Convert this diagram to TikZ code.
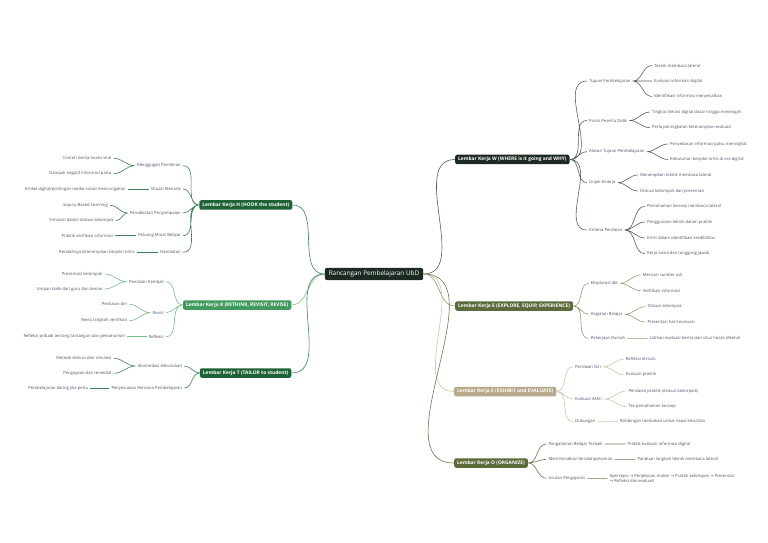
\documentclass[tikz,border=0pt]{standalone}
\usepackage{fontspec}
\setmainfont{Open Sans}
\newfontfamily\arrowfont{DejaVu Sans}
\usetikzlibrary{positioning}

\definecolor{coredark}{HTML}{1D2A21}
\definecolor{labelgray}{HTML}{4E5566}
\definecolor{wcol}{HTML}{55625A}
\definecolor{xfill}{HTML}{5B6B3E}
\definecolor{xcol}{HTML}{9C9B6E}
\definecolor{vfill}{HTML}{B4A988}
\definecolor{vcol}{HTML}{CEC5A5}
\definecolor{ofill}{HTML}{5D6A3B}
\definecolor{ocol}{HTML}{75764D}
\definecolor{hfill}{HTML}{1F6236}
\definecolor{hcol}{HTML}{3A8457}
\definecolor{rfill}{HTML}{3F9A5C}
\definecolor{rcol}{HTML}{74C08C}

\newcommand{\nextstep}{{\arrowfont →}}

\begin{document}
\begin{tikzpicture}[x=1bp,y=-1bp,
  box/.style={rounded corners=2bp,text=white,inner xsep=3bp,inner ysep=0pt,minimum height=9.5bp,font=\fontsize{4.9}{5.6}\selectfont\bfseries},
  core/.style={box,fill=coredark,minimum height=12bp,inner xsep=4bp,font=\fontsize{6.4}{7}\selectfont},
  topic/.style={inner xsep=2bp,inner ysep=1bp,text=labelgray,font=\fontsize{4.2}{5}\selectfont},
  rt/.style={topic,anchor=west},
  lt/.style={topic,anchor=east},
  rto/.style={out=0,in=180},
  lto/.style={out=180,in=0},
  link/.style={line width=0.6bp},
  wline/.style={link,draw=wcol},
  xline/.style={link,draw=xcol},
  vline/.style={link,draw=vcol},
  oline/.style={link,draw=ocol},
  hline/.style={link,draw=hcol},
  rline/.style={link,draw=rcol}]
\fill[white] (0,0) rectangle (768,543);
\useasboundingbox (0,0) rectangle (768,543);

% centre
\node[core] (c) at (374,274) {Rancangan Pembelajaran UbD};

% right branches
\node[box,fill=coredark,anchor=west] (w) at (455,159.5) {Lembar Kerja W (WHERE is it going and WHY)};
\node[box,fill=xfill,anchor=west] (x) at (455,306) {Lembar Kerja E (EXPLORE, EQUIP, EXPERIENCE)};
\node[box,fill=vfill,anchor=west] (v) at (454,391.5) {Lembar Kerja E (EXHIBIT and EVALUATE)};
\node[box,fill=ofill,anchor=west] (o) at (454,463) {Lembar Kerja O (ORGANIZE)};

% left branches
\node[box,fill=hfill,anchor=east] (h) at (292.5,205) {Lembar Kerja H (HOOK the student)};
\node[box,fill=rfill,anchor=east] (r) at (291.5,305) {Lembar Kerja R (RETHINK, REVISIT, REVISE)};
\node[box,fill=hfill,anchor=east] (t) at (291.5,373) {Lembar Kerja T (TAILOR to student)};

% W
\node[rt] (w1) at (587,81) {Tujuan Pembelajaran};
\node[rt] (w2) at (587,120.5) {Posisi Peserta Didik};
\node[rt] (w3) at (587,151.7) {Alasan Tujuan Pembelajaran};
\node[rt] (w4) at (587,182.7) {Unjuk Kinerja};
\node[rt] (w5) at (587,230) {Kriteria Penilaian};
\node[rt] (w1a) at (652,65.5) {Teknik membaca lateral};
\node[rt] (w1b) at (652,81) {Evaluasi informasi digital};
\node[rt] (w1c) at (652,96.5) {Identifikasi informasi menyesatkan};
\node[rt] (w2a) at (650,112) {Tingkat literasi digital dasar hingga menengah};
\node[rt] (w2b) at (650,127.7) {Perlu peningkatan keterampilan evaluasi};
\node[rt] (w3a) at (668,144) {Penyebaran informasi palsu meningkat};
\node[rt] (w3b) at (668,159.5) {Kebutuhan berpikir kritis di era digital};
\node[rt] (w4a) at (638,175) {Menerapkan teknik membaca lateral};
\node[rt] (w4b) at (638,191) {Diskusi kelompok dan presentasi};
\node[rt] (w5a) at (645,206.3) {Pemahaman konsep membaca lateral};
\node[rt] (w5b) at (645,222) {Penggunaan teknik dalam praktik};
\node[rt] (w5c) at (645,238) {Kritis dalam identifikasi kredibilitas};
\node[rt] (w5d) at (645,253.7) {Kerja sama dan tanggung jawab};

% E (explore)
\node[rt] (x1) at (588.7,283.3) {Eksplorasi Ide};
\node[rt] (x2) at (588.7,314.3) {Kegiatan Belajar};
\node[rt] (x3) at (588.7,338.3) {Pekerjaan Rumah};
\node[rt] (x1a) at (640.7,275) {Mencari sumber asli};
\node[rt] (x1b) at (640.7,290.7) {Verifikasi informasi};
\node[rt] (x2a) at (645.3,306.7) {Diskusi kelompok};
\node[rt] (x2b) at (645.3,322) {Presentasi hasil evaluasi};
\node[rt] (x3a) at (647.3,338.3) {Latihan evaluasi berita dari situs hoaks dikenal};

% E (exhibit)
\node[rt] (v1) at (573,366.7) {Penilaian Diri};
\node[rt] (v2) at (573,399) {Evaluasi Akhir};
\node[rt] (v3) at (573,421.7) {Dukungan};
\node[rt] (v1a) at (623.7,359.3) {Refleksi tertulis};
\node[rt] (v1b) at (623.7,374.7) {Evaluasi praktik};
\node[rt] (v2a) at (626.3,391) {Penilaian praktik (diskusi kelompok)};
\node[rt] (v2b) at (626.3,406.7) {Tes pemahaman konsep};
\node[rt] (v3a) at (618,421.7) {Bimbingan tambahan untuk siswa kesulitan};

% O
\node[rt] (o1) at (546.3,444) {Pengalaman Belajar Terbaik};
\node[rt] (o2) at (546.3,459.3) {Meminimalkan Kesalahpahaman};
\node[rt] (o3) at (546.3,478.3) {Urutan Pengajaran};
\node[rt] (o1a) at (625.3,444) {Praktik evaluasi informasi digital};
\node[rt] (o2a) at (635.3,459.3) {Panduan langkah teknik membaca lateral};
\node[rt,align=left] (o3a) at (607.3,478.6) {Apersepsi \nextstep{} Penjelasan materi \nextstep{} Praktik kelompok \nextstep{} Presentasi\\\nextstep{} Refleksi dan evaluasi};

% H
\node[lt] (h1) at (183,165.7) {Menggugah Pemikiran};
\node[lt] (h2) at (183,189) {Situasi Menarik};
\node[lt] (h3) at (183,213) {Pendekatan Penyampaian};
\node[lt] (h4) at (183,235.7) {Peluang Minat Belajar};
\node[lt] (h5) at (183,252.3) {Hambatan};
\node[lt] (h1a) at (113.7,158.3) {Contoh berita hoaks viral};
\node[lt] (h1b) at (113.7,173.7) {Dampak negatif informasi palsu};
\node[lt] (h2a) at (127.7,189) {Artikel digital/postingan media sosial mencurigakan};
\node[lt] (h3a) at (110,205.3) {Inquiry-Based Learning};
\node[lt] (h3b) at (116,220.7) {Simulasi dalam diskusi kelompok};
\node[lt] (h4a) at (115.3,235.7) {Praktik verifikasi informasi};
\node[lt] (h5a) at (137,252.3) {Rendahnya keterampilan berpikir kritis};

% R
\node[lt] (r1) at (166,281.7) {Penilaian Kembali};
\node[lt] (r2) at (166,312.7) {Revisi};
\node[lt] (r3) at (166,336.7) {Refleksi};
\node[lt] (r1a) at (104.7,274) {Presentasi kelompok};
\node[lt] (r1b) at (104.7,289) {Umpan balik dari guru dan teman};
\node[lt] (r2a) at (129.3,304.3) {Penilaian diri};
\node[lt] (r2b) at (129.3,320.7) {Revisi langkah verifikasi};
\node[lt] (r3a) at (127.3,336.7) {Refleksi pribadi tentang tantangan dan pemahaman};

% T
\node[lt] (t1) at (184.3,366) {Akomodasi Kebutuhan};
\node[lt] (t2) at (184.3,388) {Penyesuaian Rencana Pembelajaran};
\node[lt] (t1a) at (113.7,358.3) {Metode diskusi dan simulasi};
\node[lt] (t1b) at (113.7,373.3) {Pengayaan dan remedial};
\node[lt] (t2a) at (90.3,388) {Pembelajaran daring jika perlu};

% connectors
\draw[wline,rto] (c.east) to (w.west);
\draw[xline,rto] (c.east) to (x.west);
\draw[vline,rto] (c.east) to (v.west);
\draw[oline,rto] (c.east) to (o.west);
\draw[hline,lto] (c.west) to (h.east);
\draw[rline,lto] (c.west) to (r.east);
\draw[hline,lto] (c.west) to (t.east);

\draw[wline,rto] (w.east) to (w1.west) (w.east) to (w2.west) (w.east) to (w3.west)
  (w.east) to (w4.west) (w.east) to (w5.west);
\draw[wline,rto] (w1.east) to (w1a.west) (w1.east) to (w1b.west) (w1.east) to (w1c.west)
  (w2.east) to (w2a.west) (w2.east) to (w2b.west)
  (w3.east) to (w3a.west) (w3.east) to (w3b.west)
  (w4.east) to (w4a.west) (w4.east) to (w4b.west)
  (w5.east) to (w5a.west) (w5.east) to (w5b.west) (w5.east) to (w5c.west) (w5.east) to (w5d.west);

\draw[xline,rto] (x.east) to (x1.west) (x.east) to (x2.west) (x.east) to (x3.west);
\draw[xline,rto] (x1.east) to (x1a.west) (x1.east) to (x1b.west)
  (x2.east) to (x2a.west) (x2.east) to (x2b.west) (x3) -- (x3a);

\draw[vline,rto] (v.east) to (v1.west) (v.east) to (v2.west) (v.east) to (v3.west);
\draw[vline,rto] (v1.east) to (v1a.west) (v1.east) to (v1b.west)
  (v2.east) to (v2a.west) (v2.east) to (v2b.west) (v3) -- (v3a);

\draw[oline,rto] (o.east) to (o1.west) (o.east) to (o2.west) (o.east) to (o3.west);
\draw[oline] (o1) -- (o1a) (o2) -- (o2a) (o3) -- (o3a);

\draw[hline,lto] (h.west) to (h1.east) (h.west) to (h2.east) (h.west) to (h3.east)
  (h.west) to (h4.east) (h.west) to (h5.east);
\draw[hline,lto] (h1.west) to (h1a.east) (h1.west) to (h1b.east)
  (h3.west) to (h3a.east) (h3.west) to (h3b.east);
\draw[hline] (h2) -- (h2a) (h4) -- (h4a) (h5) -- (h5a);

\draw[rline,lto] (r.west) to (r1.east) (r.west) to (r2.east) (r.west) to (r3.east);
\draw[rline,lto] (r1.west) to (r1a.east) (r1.west) to (r1b.east)
  (r2.west) to (r2a.east) (r2.west) to (r2b.east);
\draw[rline] (r3) -- (r3a);

\draw[hline,lto] (t.west) to (t1.east) (t.west) to (t2.east);
\draw[hline,lto] (t1.west) to (t1a.east) (t1.west) to (t1b.east);
\draw[hline] (t2) -- (t2a);
\end{tikzpicture}
\end{document}
